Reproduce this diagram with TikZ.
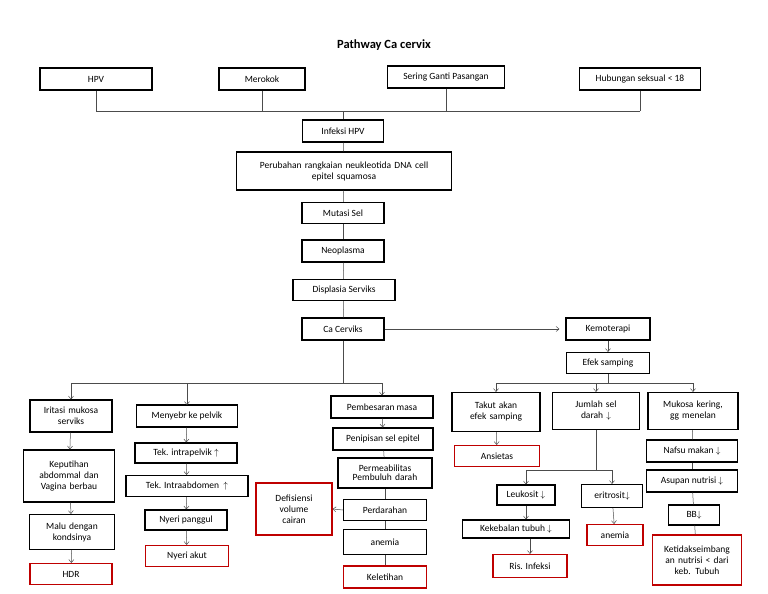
\documentclass[tikz,border=0pt]{standalone}
\usepackage{fontspec}
\setmainfont{Carlito}
\usetikzlibrary{arrows.meta,calc}
\tikzset{
  box/.style={draw, line width=1.1pt, align=center, inner sep=1pt, font=\fontsize{9.5}{11}\selectfont},
  redbox/.style={box, draw=red!75!black},
  ln/.style={draw=black!70, line width=0.5pt},
  ar/.style={ln, -{Straight Barb[length=3pt,width=5pt]}}
}
\begin{document}
\begin{tikzpicture}[x=1pt, y=-1pt]
\useasboundingbox (0,0) rectangle (768,594);
\node[font=\bfseries\fontsize{12.5}{14}\selectfont] (title) at (384,45) {Pathway Ca cervix};

% faktor risiko
\node[box, minimum width=112, minimum height=22] (hpv) at (96,79) {HPV};
\node[box, minimum width=86, minimum height=22] (rokok) at (262,79) {Merokok};
\node[box, minimum width=117, minimum height=22] (ganti) at (446,77) {Sering Ganti Pasangan};
\node[box, minimum width=121, minimum height=22] (seks) at (640,79) {Hubungan seksual < 18};

\node[box, minimum width=81, minimum height=22] (infeksi) at (343,131) {Infeksi HPV};
\node[box, minimum width=215, minimum height=38, text width=210] (dna) at (344,171) {Perubahan rangkaian neukleotida DNA cell\\ epitel squamosa};
\node[box, minimum width=82, minimum height=21] (mutasi) at (343,213) {Mutasi Sel};
\node[box, minimum width=82, minimum height=22] (neo) at (343,251) {Neoplasma};
\node[box, minimum width=102, minimum height=21] (displasia) at (344,290) {Displasia Serviks};
\node[box, minimum width=82, minimum height=22] (ca) at (343,329) {Ca Cerviks};

% kemoterapi
\node[box, minimum width=84, minimum height=22] (kemo) at (608,329) {Kemoterapi};
\node[box, minimum width=83, minimum height=21] (efek) at (608,363) {Efek samping};
\node[box, minimum width=88, minimum height=39, text width=84] (takut) at (496,412) {Takut akan\\ efek samping};
\node[box, minimum width=87, minimum height=37, text width=82] (jumlah) at (596,411) {Jumlah sel\\ darah $\downarrow$};
\node[box, minimum width=90, minimum height=37, text width=86] (mukosa) at (693,411) {Mukosa kering,\\ gg menelan};
\node[redbox, minimum width=85, minimum height=21] (ansietas) at (497,456) {Ansietas};
\node[box, minimum width=58, minimum height=20] (leuko) at (526,495) {Leukosit $\downarrow$};
\node[box, minimum width=61, minimum height=23] (eritro) at (612,496) {eritrosit$\downarrow$};
\node[box, minimum width=107, minimum height=18] (kebal) at (516,529) {Kekebalan tubuh $\downarrow$};
\node[redbox, minimum width=74, minimum height=23] (risinf) at (530,566) {Ris. Infeksi};
\node[redbox, minimum width=56, minimum height=21] (anemiab) at (615,535) {anemia};
\node[box, minimum width=91, minimum height=22] (nafsu) at (692,451) {Nafsu makan $\downarrow$};
\node[box, minimum width=91, minimum height=22] (asupan) at (692,481) {Asupan nutrisi $\downarrow$};
\node[box, minimum width=51, minimum height=20] (bb) at (694,515) {BB$\downarrow$};
\node[redbox, minimum width=89, minimum height=50, text width=86] (nutrisi) at (697,560) {Ketidakseimbang\\ an nutrisi < dari\\ keb. Tubuh};

% cabang kiri
\node[box, minimum width=82, minimum height=32, text width=78] (iritasi) at (71,416) {Iritasi mukosa\\ serviks};
\node[box, minimum width=91, minimum height=52, text width=88] (putih) at (69,476) {Keputihan\\ abdommal dan\\ Vagina berbau};
\node[box, minimum width=85, minimum height=35, text width=82] (malu) at (72,532) {Malu dengan\\ kondsinya};
\node[redbox, minimum width=82, minimum height=21] (hdr) at (71,574) {HDR};
\node[box, minimum width=101, minimum height=22] (pelvik) at (187,416) {Menyebr ke pelvik};
\node[box, minimum width=102, minimum height=20] (intrap) at (186,453) {Tek. intrapelvik $\uparrow$};
\node[box, minimum width=122, minimum height=21] (intraa) at (187,486) {Tek. Intraabdomen \ $\uparrow$};
\node[box, minimum width=82, minimum height=20] (panggul) at (186,520) {Nyeri panggul};
\node[redbox, minimum width=83, minimum height=21] (akut) at (187,556) {Nyeri akut};
\node[box, minimum width=102, minimum height=22] (masa) at (382,407) {Pembesaran masa};
\node[box, minimum width=100, minimum height=22] (epitel) at (383,439) {Penipisan sel epitel};
\node[box, minimum width=94, minimum height=30, text width=92] (perm) at (385,473) {Permeabilitas\\[-2pt] Pembuluh darah};
\node[box, minimum width=83, minimum height=21] (darah) at (385,510) {Perdarahan};
\node[box, minimum width=83, minimum height=25] (anemiaa) at (385,542) {anemia};
\node[redbox, minimum width=83, minimum height=22] (letih) at (385,577) {Keletihan};
\node[redbox, minimum width=76, minimum height=52, text width=72] (defis) at (294,509) {Defisiensi\\ volume\\ cairan};

% garis faktor risiko
\coordinate (busL) at (96,111);
\coordinate (busR) at (640,111);
\draw[ln] (busL) -- (busR);
\foreach \n in {hpv,rokok,ganti,seks}
  \draw[ln] (\n.south) -- (\n.south |- busL);
\draw[ln] (infeksi.north |- busL) -- (infeksi.north);

\foreach \a/\b in {infeksi/dna,dna/mutasi,mutasi/neo,neo/displasia,displasia/ca}
  \draw[ln] (\a) -- (\b);

% kemoterapi
\draw[ar] (ca.east) -- ([xshift=-6]kemo.west);
\draw[ar] (kemo) -- (efek);
\coordinate (busK) at (608,383);
\draw[ln] (efek.south) -- (busK);
\draw[ln] (takut.north |- busK) -- (mukosa.north |- busK);
\foreach \n in {takut,jumlah,mukosa}
  \draw[ar] (\n.north |- busK) -- (\n.north);
\draw[ar] (takut) -- (ansietas);
\coordinate (busJ) at (596,470);
\draw[ln] (jumlah.south) -- (busJ);
\draw[ln] (leuko.north |- busJ) -- (eritro.north |- busJ);
\draw[ar] (leuko.north |- busJ) -- (leuko.north);
\draw[ar] (eritro.north |- busJ) -- (eritro.north);
\draw[ar] (leuko.south) -- (leuko.south |- kebal.north);
\draw[ar] (kebal.south -| risinf.north) -- (risinf.north);
\draw[ar] (eritro) -- (anemiab);
\foreach \a/\b in {mukosa/nafsu,nafsu/asupan,asupan/bb,bb/nutrisi}
  \draw[ln] (\a) -- (\b);

% cabang kiri
\coordinate (busC) at (343,383);
\draw[ln] (ca.south) -- (busC);
\draw[ln] (iritasi.north |- busC) -- (masa.north |- busC);
\draw[ar] (iritasi.north |- busC) -- (iritasi.north);
\draw[ar] (pelvik.north |- busC) -- ([yshift=-0.5]pelvik.north);
\draw[ar] (masa.north |- busC) -- (masa.north);
\foreach \a/\b in {iritasi/putih,putih/malu,malu/hdr,pelvik/intrap,intrap/intraa,intraa/panggul,panggul/akut,masa/epitel}
  \draw[ar] (\a) -- (\b);
\foreach \a/\b in {epitel/perm,perm/darah,darah/anemiaa,anemiaa/letih}
  \draw[ln] (\a) -- (\b);
\draw[ar] (darah.west) -- (defis.east);
\end{tikzpicture}
\end{document}
